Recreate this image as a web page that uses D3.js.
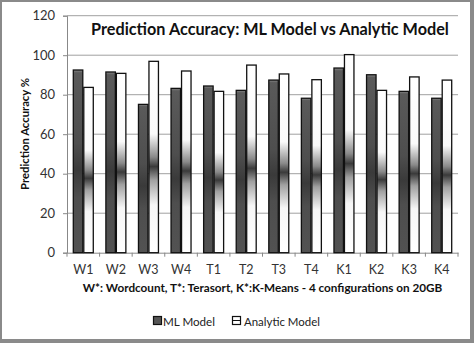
<!DOCTYPE html>
<html><head><meta charset="utf-8">
<script src="https://cdn.jsdelivr.net/npm/d3@7"></script>
<style>html,body{margin:0;padding:0;background:#fff;}svg{display:block;}</style>
</head><body>
<script>
const categories = ["W1","W2","W3","W4","T1","T2","T3","T4","K1","K2","K3","K4"];
const seriesNames = ["ML Model","Analytic Model"];
const mlValues = [92.5,91.5,75.1,83.2,84.4,82.2,87.4,78.2,93.5,90.1,81.7,78.2];
const analyticValues = [83.7,90.8,96.9,92.0,81.7,95.0,90.5,87.6,100.3,82.2,89.0,87.4];
const yTicks = [0,20,40,60,80,100,120];
const title = "Prediction Accuracy: ML Model vs Analytic Model";
const xTitle = "W*: Wordcount, T*: Terasort, K*:K-Means - 4 configurations on 20GB";
const yTitle = "Prediction Accuracy %";

(function(){
const W = 474, H = 343;
const svg = d3.select("body").append("svg").attr("width", W).attr("height", H);
const defs = svg.append("defs");
const FONT = "Lato, 'Open Sans', sans-serif";

// fit font size so the text's natural width matches the target width
function fit(sel, target){
  const fs = parseFloat(sel.attr("font-size"));
  const w = sel.node().getComputedTextLength();
  if (w > 0) sel.attr("font-size", (fs * target / w).toFixed(2));
}

// frame
svg.append("rect").attr("x",0).attr("y",0).attr("width",W).attr("height",H).attr("fill","#8a8a8a");
svg.append("rect").attr("x",2).attr("y",2).attr("width",468).attr("height",337).attr("fill","#fff");

// gradients
const gA = defs.append("linearGradient").attr("id","gA").attr("x1",0).attr("y1",0).attr("x2",0).attr("y2",1);
[[0,"#fff"],[0.38,"#fafafa"],[0.5,"#8a8a8a"],[0.55,"#3a3a3a"],[0.62,"#a0a0a0"],[0.75,"#f6f6f6"],[1,"#fff"]]
  .forEach(s=>gA.append("stop").attr("offset",s[0]).attr("stop-color",s[1]));
const gM = defs.append("linearGradient").attr("id","gM").attr("x1",0).attr("y1",0).attr("x2",0).attr("y2",1);
[[0,"#8a8a8a"],[0.015,"#5a5a5a"],[0.4,"#4e4e4e"],[0.55,"#3a3a3a"],[0.7,"#4e4e4e"],[1,"#525252"]]
  .forEach(s=>gM.append("stop").attr("offset",s[0]).attr("stop-color",s[1]));

const pLeft = 67, pRight = 458, pTop = 15.7, pBottom = 252.7;
const x = d3.scaleBand().domain(categories).range([pLeft,pRight]).paddingInner(0.356).paddingOuter(0.178);
const xs = d3.scaleBand().domain(seriesNames).range([0,x.bandwidth()]);
const y = d3.scaleLinear().domain([0,120]).range([pBottom,pTop]);

// gridlines
svg.append("g").selectAll("line").data(yTicks.filter(d=>d>0)).join("line")
  .attr("x1",pLeft).attr("x2",pRight).attr("y1",d=>y(d)).attr("y2",d=>y(d))
  .attr("stroke","#a0a0a0").attr("stroke-width",1);

// y axis
const yAxis = svg.append("g").attr("transform",`translate(${pLeft},0)`)
  .call(d3.axisLeft(y).tickValues(yTicks).tickSize(4).tickPadding(8));
yAxis.select(".domain").attr("stroke","#888");
yAxis.selectAll(".tick line").attr("stroke","#888");
yAxis.selectAll("text").attr("font-family",FONT).attr("font-size",13).attr("fill","#333");

// x axis
const xAxis = svg.append("g").attr("transform",`translate(0,${pBottom})`)
  .call(d3.axisBottom(x).tickSize(0).tickPadding(12));
xAxis.select(".domain").attr("stroke","#888");
xAxis.selectAll("text").attr("font-family",FONT).attr("font-size",12.5).attr("fill","#333");
const bounds = d3.range(categories.length+1).map(i=>pLeft + i*x.step());
svg.append("g").selectAll("line").data(bounds).join("line")
  .attr("x1",d=>d).attr("x2",d=>d).attr("y1",pBottom).attr("y2",pBottom+4).attr("stroke","#888");

// bars
const rows = categories.map((c,i)=>({c, vals:[mlValues[i], analyticValues[i]]}));
const grp = svg.append("g").selectAll("g").data(rows).join("g")
  .attr("transform",d=>`translate(${x(d.c)},0)`);
grp.selectAll("rect").data(d=>d.vals.map((v,j)=>({s:seriesNames[j], v, j}))).join("rect")
  .attr("x",d=>xs(d.s)+0.5).attr("width",xs.bandwidth()-1)
  .attr("y",d=>y(d.v)).attr("height",d=>pBottom-y(d.v))
  .attr("fill",d=>d.j===0?"url(#gM)":"url(#gA)")
  .attr("stroke","#111").attr("stroke-width",1.3);

// title
const t = svg.append("text").attr("x",270).attr("y",35).attr("text-anchor","middle")
  .attr("font-family",FONT).attr("font-weight","bold").attr("font-size",17.5)
  .attr("fill","#111").text(title);
fit(t, 358);

// x title
const xt = svg.append("text").attr("x",262.5).attr("y",292).attr("text-anchor","middle")
  .attr("font-family",FONT).attr("font-weight","bold").attr("font-size",13)
  .attr("fill","#111").text(xTitle);
fit(xt, 360);

// y title
const yt = svg.append("text").attr("transform","translate(29,134) rotate(-90)").attr("text-anchor","middle")
  .attr("font-family",FONT).attr("font-weight","bold").attr("font-size",13)
  .attr("fill","#111").text(yTitle);
fit(yt, 112);

// legend
const legend = svg.append("g");
const legItems = [{s:seriesNames[0], x:153, fill:"#555", tx:163, tl:52},{s:seriesNames[1], x:232, fill:"#fff", tx:244, tl:76}];
legItems.forEach(d=>{
  legend.append("rect").attr("x",d.x+0.5).attr("y",316.5).attr("width",8).attr("height",8)
    .attr("fill",d.fill).attr("stroke","#111").attr("stroke-width",1.2);
  if(d.fill==="#fff") legend.append("line").attr("x1",d.x+0.5).attr("x2",d.x+8.5).attr("y1",320.5).attr("y2",320.5).attr("stroke","#111");
  const lt = legend.append("text").attr("x",d.tx).attr("y",325.5)
    .attr("font-family",FONT).attr("font-size",13).attr("fill","#222").text(d.s);
  fit(lt, d.tl);
});
})();
</script>
</body></html>
